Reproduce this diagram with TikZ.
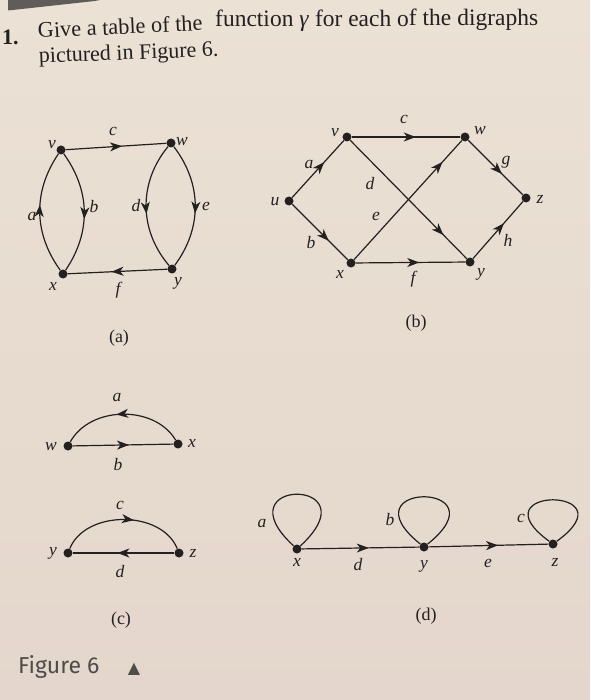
\documentclass[tikz,border=0pt]{standalone}
\usepackage{fontspec}
\setmainfont{Liberation Serif}
\newfontfamily\figsans{Fira Sans}
\newfontfamily\symfont{DejaVu Sans}
\usetikzlibrary{arrows.meta,decorations.markings}
\definecolor{ink}{RGB}{36,32,32}
\definecolor{bgtop}{RGB}{235,225,212}
\definecolor{bgbot}{RGB}{228,214,204}
\definecolor{band}{RGB}{95,92,90}
\definecolor{figgray}{RGB}{78,75,73}
\begin{document}
\begin{tikzpicture}[x=1pt,y=-1pt,
  vdot/.style={circle,fill=ink,inner sep=0pt,minimum size=9pt},
  lbl/.style={font=\fontsize{17.5}{17}\selectfont\itshape,text=ink,inner sep=0pt},
  captxt/.style={font=\fontsize{18}{18}\selectfont,text=ink,inner sep=0pt},
  ttl/.style={text=ink,inner sep=0pt,anchor=base west},
  edg/.style={draw=ink,line width=1.2pt},
  marr/.style={postaction={decorate},decoration={markings,mark=at position #1 with {\arrow{Stealth[length=12pt,width=9pt,inset=3.5pt]}}}},
  marr/.default=0.55]
\shade[top color=bgtop,bottom color=bgbot] (0,0) rectangle (590,700);
\useasboundingbox (0,0) rectangle (590,700);
\fill[band] (8,0) -- (100,0) -- (95,1) -- (8,10.5) -- cycle;

% title
\node[ttl,font=\fontsize{22}{22}\selectfont\bfseries] (num) at (2,45) {1.};
\node[ttl,font=\fontsize{22.3}{22}\selectfont,rotate=2.6] (t1) at (38,38) {Give a table of the};
\node[ttl,font=\fontsize{23.5}{23}\selectfont,rotate=0.3] (t2) at (215,27) {function \textit{γ} for each of the digraphs};
\node[ttl,font=\fontsize{22}{22}\selectfont,rotate=2.2] (t3) at (39,63) {pictured in Figure 6.};

% (a)
\node[vdot] (av) at (61,150) {};
\node[vdot] (aw) at (171,143) {};
\node[vdot] (ax) at (63,274) {};
\node[vdot] (ay) at (172,269) {};
\draw[edg,marr=0.56] (av) -- (aw);
\draw[edg,marr=0.56] (ax) to[bend left=35] (av);
\draw[edg,marr=0.56] (av) to[bend left=35] (ax);
\draw[edg,marr=0.56] (aw) to[bend right=40] (ay);
\draw[edg,marr=0.56] (aw) to[bend left=37] (ay);
\draw[edg,marr=0.56] (ay) -- (ax);
\node[lbl] (lav) at (52,145) {v};
\node[lbl] (law) at (182,142) {w};
\node[lbl] (lax) at (53,286) {x};
\node[lbl] (lay) at (178,283) {y};
\node[lbl] (laa) at (32,216) {a};
\node[lbl] (lab) at (94,207) {b};
\node[lbl] (lac) at (113,131) {c};
\node[lbl] (lad) at (136,206) {d};
\node[lbl] (lae) at (206,206) {e};
\node[lbl] (laf) at (118,290) {f};
\node[captxt] (capa) at (119,338) {(a)};

% (b)
\node[vdot] (bu) at (289,201) {};
\node[vdot] (bv) at (347,137) {};
\node[vdot] (bw) at (465,137) {};
\node[vdot] (bx) at (351,263) {};
\node[vdot] (by) at (470,262) {};
\node[vdot] (bz) at (526,198) {};
\draw[edg,marr=0.62] (bu) -- (bv);
\draw[edg,marr=0.66] (bu) -- (bx);
\draw[edg,marr=0.59] (bv) -- (bw);
\draw[edg,marr=0.8] (bv) -- (by);
\draw[edg,marr=0.82] (bx) -- (bw);
\draw[edg,marr=0.58] (bx) -- (by);
\draw[edg,marr=0.62] (bw) -- (bz);
\draw[edg,marr=0.62] (by) -- (bz);
\node[lbl] (lbu) at (275,202) {u};
\node[lbl] (lbv) at (335,133) {v};
\node[lbl] (lbw) at (480,131) {w};
\node[lbl] (lbx) at (340,274) {x};
\node[lbl] (lby) at (481,274) {y};
\node[lbl] (lbz) at (540,199) {z};
\node[lbl] (lba) at (309,164) {a};
\node[lbl] (lbb) at (311,243) {b};
\node[lbl] (lbc) at (404,119) {c};
\node[lbl] (lbd) at (370,184) {d};
\node[lbl] (lbe) at (376,216) {e};
\node[lbl] (lbf) at (413,279) {f};
\node[lbl] (lbg) at (506,162) {g};
\node[lbl] (lbh) at (508,240) {h};
\node[captxt] (capb) at (416,323) {(b)};

% (c)
\node[vdot] (cw) at (68,446) {};
\node[vdot] (cx) at (178,444) {};
\node[vdot] (cy) at (68,553) {};
\node[vdot] (cz) at (179,553) {};
\draw[edg,marr=0.55] (cx) to[bend right=60] (cw);
\draw[edg,marr=0.56] (cw) -- (cx);
\draw[edg,marr=0.58] (cy) to[bend left=68] (cz);
\draw[edg,marr=0.56] (cz) -- (cy);
\node[lbl] (lcw) at (51,447) {w};
\node[lbl] (lcx) at (192,443) {x};
\node[lbl] (lcy) at (53,553) {y};
\node[lbl] (lcz) at (193,553) {z};
\node[lbl] (lca) at (117,397) {a};
\node[lbl] (lcb) at (118,465) {b};
\node[lbl] (lcc) at (120,505) {c};
\node[lbl] (lcd) at (120,572) {d};
\node[captxt] (capc) at (121,620) {(c)};

% (d)
\node[vdot] (dx) at (297,549) {};
\node[vdot] (dy) at (424,547) {};
\node[vdot] (dz) at (553,544) {};
\draw[edg] (dx) .. controls +(-78,-72) and +(78,-72) .. (dx);
\draw[edg] (dy) .. controls +(-82,-66) and +(82,-66) .. (dy);
\draw[edg] (dz) .. controls +(-80,-58) and +(80,-58) .. (dz);
\draw[edg,marr=0.57] (dx) -- (dy);
\draw[edg,marr=0.58] (dy) -- (dz);
\node[lbl] (ldx) at (297,562) {x};
\node[lbl] (ldy) at (424,566) {y};
\node[lbl] (ldz) at (555,562) {z};
\node[lbl] (lda) at (262,523) {a};
\node[lbl] (ldb) at (390,520) {b};
\node[lbl] (ldc) at (521,518) {c};
\node[lbl] (ldd) at (358,565) {d};
\node[lbl] (lde) at (488,563) {e};
\node[captxt] (capd) at (426,616) {(d)};

% caption
\node[font=\figsans\fontsize{23}{23}\selectfont,text=figgray,anchor=west,inner sep=0pt] (fig) at (18,667) {Figure 6};
\node[font=\symfont\fontsize{16}{16}\selectfont,text=figgray,inner sep=0pt] (tri) at (134,669) {▲};
\end{tikzpicture}
\end{document}
